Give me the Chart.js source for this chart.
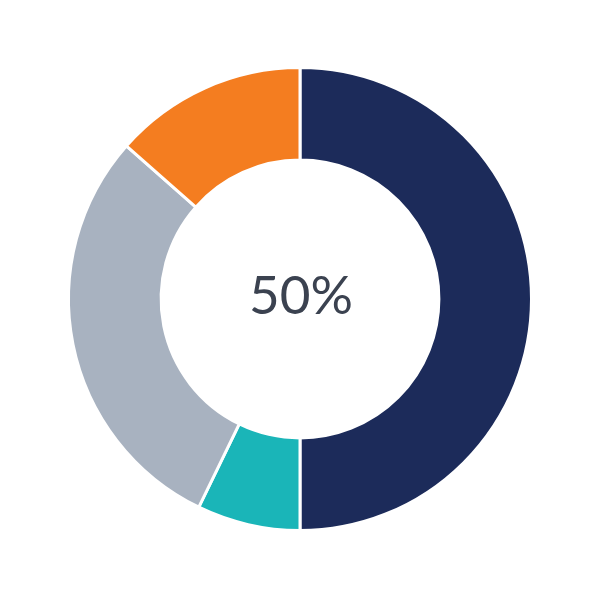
<!DOCTYPE html>
<html>
<head>
<meta charset="utf-8">
<script src="https://cdn.jsdelivr.net/npm/chart.js@4/dist/chart.umd.min.js"></script>
<style>
html,body{margin:0;padding:0;background:#fff;}
#wrap{width:600px;height:599px;}
</style>
</head>
<body>
<div id="wrap"><canvas id="c" width="600" height="599"></canvas></div>
<script>
const categories = ["Navy", "Teal", "Gray", "Orange"];
const values = [50, 7.2, 29.3, 13.5];
const colors = ["#1c2b5a", "#1ab5b8", "#a8b2c0", "#f47d20"];
const centerLabel = "50%";

const centerText = {
  id: 'centerText',
  afterDraw(chart) {
    const ctx = chart.ctx;
    const meta = chart.getDatasetMeta(0);
    const arc = meta.data[0];
    ctx.save();
    ctx.font = '400 53px Lato';
    ctx.fillStyle = '#3b4250';
    ctx.textAlign = 'center';
    ctx.textBaseline = 'middle';
    ctx.fillText(centerLabel, arc.x + 1, arc.y - 2);
    ctx.restore();
  }
};

new Chart(document.getElementById('c'), {
  type: 'doughnut',
  data: {
    labels: categories,
    datasets: [{
      data: values,
      backgroundColor: colors,
      borderColor: '#ffffff',
      borderWidth: 3
    }]
  },
  options: {
    responsive: false,
    animation: false,
    cutout: '60%',
    layout: { padding: { left: 67, right: 67, top: 66, bottom: 67 } },
    plugins: { legend: { display: false }, tooltip: { enabled: false } }
  },
  plugins: [centerText]
});
</script>
</body>
</html>
